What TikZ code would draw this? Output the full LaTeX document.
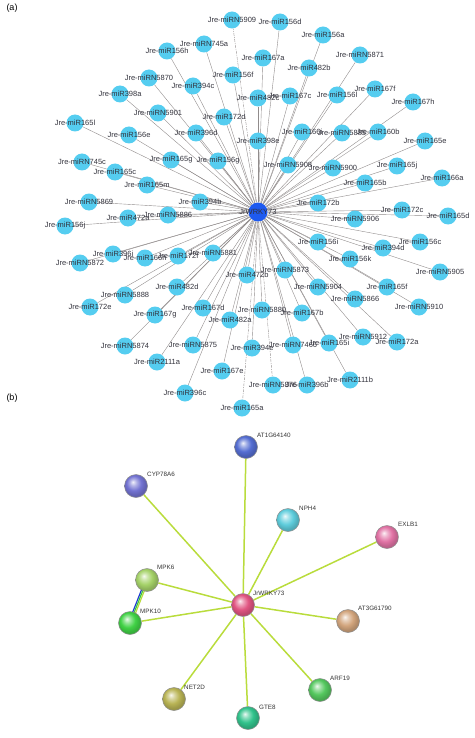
\documentclass[tikz,border=0pt]{standalone}
\usepackage{fontspec}
\setmainfont{Liberation Sans}
\usetikzlibrary{backgrounds}
\makeatletter
\pgfdeclareradialshading[tikz@ball]{gloss}{\pgfpoint{-7bp}{9bp}}{color(0bp)=(tikz@ball!10!white); color(7bp)=(tikz@ball!55!white); color(16bp)=(tikz@ball); color(24bp)=(tikz@ball!85!black); color(50bp)=(tikz@ball!60!black)}
\makeatother
\definecolor{mircol}{RGB}{85,205,240}
\definecolor{hubcol}{RGB}{30,90,240}
\definecolor{edgecol}{RGB}{145,140,140}
\definecolor{txtcol}{RGB}{50,50,60}
\definecolor{stredge}{RGB}{185,220,60}
\definecolor{cw}{RGB}{225,85,130}
\definecolor{cat1}{RGB}{85,110,210}
\definecolor{ccyp}{RGB}{115,115,210}
\definecolor{cnph}{RGB}{95,205,220}
\definecolor{cexl}{RGB}{225,115,165}
\definecolor{cmk6}{RGB}{165,210,105}
\definecolor{cmk10}{RGB}{65,210,70}
\definecolor{cat3}{RGB}{210,165,125}
\definecolor{carf}{RGB}{85,200,95}
\definecolor{cnet}{RGB}{185,180,85}
\definecolor{cgte}{RGB}{50,195,140}
\definecolor{bluelink}{RGB}{30,60,210}
\definecolor{greenlink}{RGB}{60,200,60}
\tikzset{
  mirna/.style={circle,fill=mircol,minimum size=17pt,inner sep=0pt},
  hub/.style={circle,fill=hubcol,minimum size=19pt,inner sep=0pt},
  mlabel/.style={text=txtcol,font=\fontsize{7.5}{8}\selectfont,inner sep=0pt},
  edge/.style={draw=edgecol,line width=0.4pt},
  dedge/.style={draw=edgecol,line width=0.4pt,dash pattern=on 3pt off 1pt on 1pt off 1pt},
  sph/.style={circle,minimum size=23pt,inner sep=0pt,ball color=#1,shading=gloss,draw=black!45,line width=0.5pt},
  slabel/.style={font=\fontsize{6.3}{7}\selectfont,text=black!80,inner sep=0pt,anchor=west},
  sedge/.style={draw=stredge,line width=1.5pt},
  panel/.style={font=\fontsize{9}{10}\selectfont,text=black}
}
\def\mirlist{1/232/20/Jre-miRN5909, 2/280/22/Jre-miR156d, 3/323/35/Jre-miR156a, 4/360/55/Jre-miRN5871,
5/204/44/Jre-miRN745a, 6/167/51/Jre-miR156h, 7/263/58/Jre-miR167a, 8/233/75/Jre-miR156f,
9/149/78/Jre-miRN5870, 10/193/86/Jre-miR394c, 11/309/68/Jre-miR482b, 12/375/89/Jre-miR167f,
13/337/95/Jre-miR156l, 14/413/102/Jre-miR167h, 15/290/96/Jre-miR167c, 16/258/98/Jre-miR482c,
17/120/94/Jre-miR398a, 18/158/113/Jre-miRN5901, 19/224/117/Jre-miR172d, 20/75/123/Jre-miR165l,
21/129/135/Jre-miR156e, 22/196/133/Jre-miR396d, 23/258/141/Jre-miR398e, 24/302/132/Jre-miR166i,
25/342/133/Jre-miRN5885, 26/378/132/Jre-miR160b, 27/425/141/Jre-miR165e, 28/333/168/Jre-miRN5900,
29/288/165/Jre-miRN5908, 30/397/166/Jre-miR165j, 31/442/178/Jre-miR166a, 32/365/183/Jre-miR165b,
33/171/160/Jre-miR165g, 34/218/161/Jre-miR156g, 35/82/162/Jre-miRN745c, 36/115/172/Jre-miR165c,
37/147/185/Jre-miR165m, 38/89/202/Jre-miRN5869, 39/200/202/Jre-miR394b, 40/168/215/Jre-miRN5886,
41/128/218/Jre-miR472a, 42/65/226/Jre-miR156j, 43/318/203/Jre-miR172b, 44/402/210/Jre-miR172c,
45/355/219/Jre-miRN5906, 46/448/216/Jre-miR165d, 47/318/242/Jre-miR156i, 48/383/248/Jre-miR394d,
49/420/242/Jre-miR156c, 50/350/259/Jre-miR156k, 51/440/272/Jre-miRN5905, 52/387/287/Jre-miR165f,
53/318/287/Jre-miRN5904, 54/355/299/Jre-miRN5866, 55/419/307/Jre-miRN5910, 56/302/313/Jre-miR167b,
57/363/337/Jre-miRN5912, 58/397/342/Jre-miR172a, 59/329/343/Jre-miR165i, 60/350/380/Jre-miR2111b,
61/307/385/Jre-miR396b, 62/273/385/Jre-miRN5876, 63/185/393/Jre-miR396c, 64/242/408/Jre-miR165a,
65/222/371/Jre-miR167e, 66/157/362/Jre-miR2111a, 67/193/345/Jre-miRN5875, 68/252/348/Jre-miR394e,
69/293/345/Jre-miRN7466, 70/230/320/Jre-miR482a, 71/203/308/Jre-miR167d, 72/262/310/Jre-miRN5880,
73/177/287/Jre-miR482d, 74/155/315/Jre-miR167g, 75/90/307/Jre-miR172e, 76/125/295/Jre-miRN5888,
77/125/346/Jre-miRN5874, 78/80/263/Jre-miRN5872, 79/113/254/Jre-miR396i, 80/145/258/Jre-miR166h,
81/178/256/Jre-miR172f, 82/213/253/Jre-miRN5881, 83/247/275/Jre-miR472b, 84/285/270/Jre-miRN5873}
\begin{document}
\begin{tikzpicture}[x=1pt,y=-1pt]
\useasboundingbox (0,0) rectangle (474,738);
\node[panel] (pa) at (12,8) {(a)};
\node[panel] (pb) at (12,398) {(b)};
% panel (a)
\node[hub] (c) at (258,212) {};
\foreach \i/\x/\y/\t in \mirlist { \node[mirna] (m\i) at (\x,\y) {}; }
\begin{pgfonlayer}{background}
\foreach \i in {2,...,61,63,65,66,...,84} { \draw[edge] (c) -- (m\i); }
\foreach \i in {1,62,64} { \draw[dedge] (c) -- (m\i); }
\end{pgfonlayer}
\foreach \i/\x/\y/\t in \mirlist { \node[mlabel] at (m\i) {\t}; }
\node[mlabel] at (c) {JrWRKY73};
% panel (b)
\node[sph=cw] (w) at (243,605) {};
\node[sph=cat1] (at1) at (246,447) {};
\node[sph=ccyp] (cyp) at (136,486) {};
\node[sph=cnph] (nph) at (288,520) {};
\node[sph=cexl] (exl) at (387,537) {};
\node[sph=cmk6] (mk6) at (147,580) {};
\node[sph=cmk10] (mk10) at (130,623) {};
\node[sph=cat3] (at3) at (348,621) {};
\node[sph=carf] (arf) at (320,690) {};
\node[sph=cnet] (net) at (174,699) {};
\node[sph=cgte] (gte) at (248,718) {};
\begin{pgfonlayer}{background}
\foreach \n in {at1,cyp,nph,exl,mk6,mk10,at3,arf,net,gte} { \draw[sedge] (w) -- (\n); }
\draw[draw=bluelink,line width=1.2pt] ([xshift=-1.6pt]mk6.center) -- ([xshift=-1.6pt]mk10.center);
\draw[draw=greenlink,line width=1.2pt] (mk6.center) -- (mk10.center);
\draw[draw=stredge,line width=1.2pt] ([xshift=1.6pt]mk6.center) -- ([xshift=1.6pt]mk10.center);
\end{pgfonlayer}
\node[slabel] at (257,435) {AT1G64140};
\node[slabel] at (147,474) {CYP78A6};
\node[slabel] at (299,508) {NPH4};
\node[slabel] at (398,524) {EXLB1};
\node[slabel] at (157,567) {MPK6};
\node[slabel] at (140,611) {MPK10};
\node[slabel] at (253,593) {JrWRKY73};
\node[slabel] at (358,608) {AT3G61790};
\node[slabel] at (330,678) {ARF19};
\node[slabel] at (184,687) {NET2D};
\node[slabel] at (259,707) {GTE8};
\end{tikzpicture}
\end{document}
